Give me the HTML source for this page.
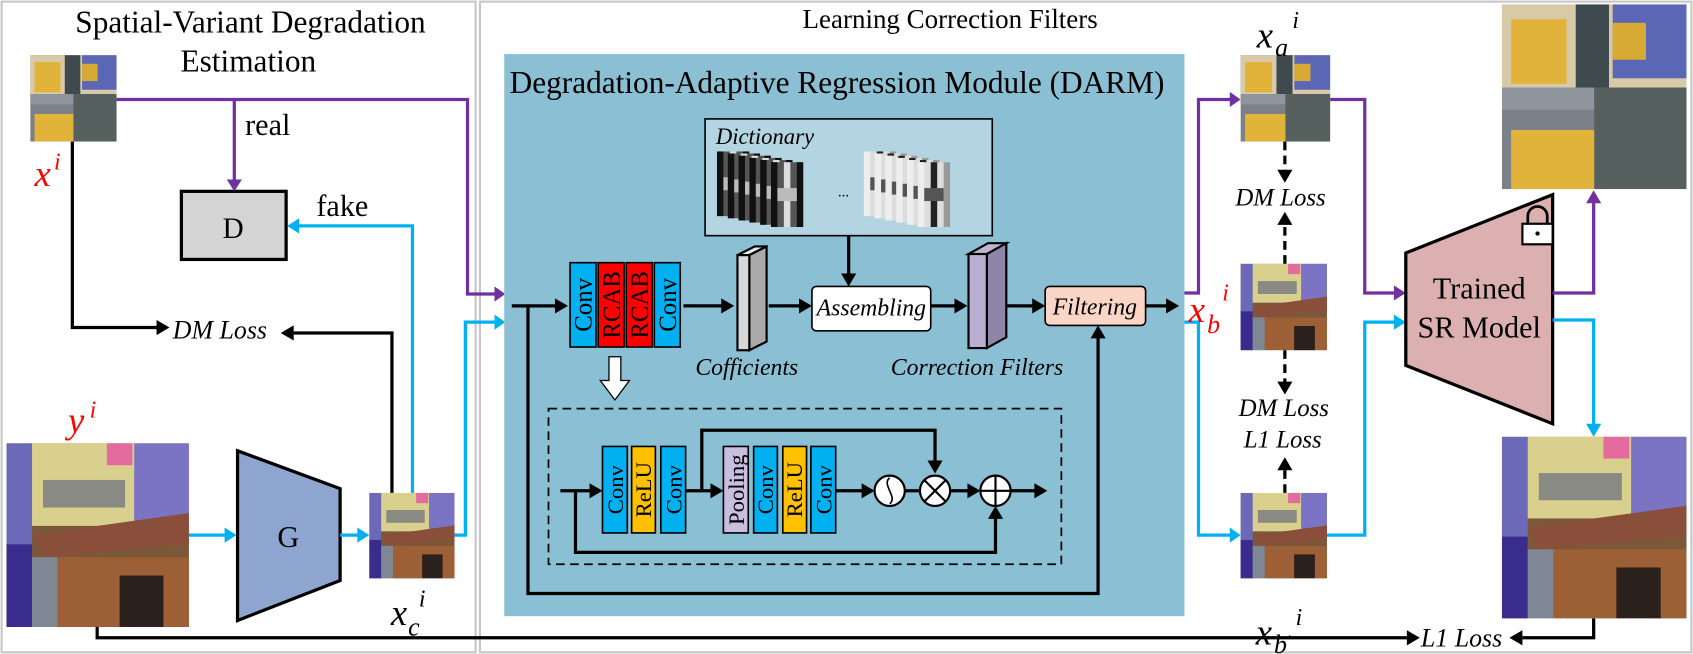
<!DOCTYPE html>
<html><head><meta charset="utf-8"><style>
html,body{margin:0;padding:0;background:#fff;}
svg{display:block;}
text{font-family:"Liberation Serif",serif;}
</style></head><body>
<svg width="1693" height="654" viewBox="0 0 1568 605" preserveAspectRatio="none" xmlns="http://www.w3.org/2000/svg">
<defs>
<symbol id="A" viewBox="0 0 100 100" preserveAspectRatio="none">
<rect width="100" height="100" fill="#7c8189"/>
<rect x="0" y="0" width="100" height="45" fill="#d8c9a8"/>
<rect x="60" y="0" width="40" height="40" fill="#5b67b5"/>
<rect x="5" y="8" width="30" height="35" fill="#e2b33a"/>
<rect x="40" y="0" width="18" height="45" fill="#3f4a4f"/>
<rect x="60" y="10" width="18" height="20" fill="#d6aa35"/>
<rect x="0" y="45" width="100" height="12" fill="#8e959c"/>
<rect x="50" y="45" width="50" height="55" fill="#56605f"/>
<rect x="5" y="68" width="45" height="32" fill="#e2b33a"/>
</symbol>
<symbol id="B" viewBox="0 0 100 100" preserveAspectRatio="none">
<rect width="100" height="100" fill="#7a5838"/>
<rect x="0" y="0" width="100" height="45" fill="#d9d08e"/>
<rect x="0" y="0" width="14" height="100" fill="#6c6ab8"/>
<rect x="70" y="0" width="30" height="45" fill="#7b74c4"/>
<rect x="20" y="20" width="45" height="15" fill="#8a8a85"/>
<rect x="55" y="0" width="14" height="12" fill="#e36b9f"/>
<rect x="0" y="55" width="14" height="45" fill="#3a2c8c"/>
<polygon points="14,50 100,38 100,55 20,62" fill="#8a4f3a"/>
<rect x="14" y="62" width="14" height="38" fill="#7f8794"/>
<rect x="28" y="62" width="72" height="38" fill="#9c5f36"/>
<rect x="62" y="72" width="24" height="28" fill="#2b211c"/>
</symbol>
<symbol id="D1" viewBox="0 0 10 10" preserveAspectRatio="none">
<rect width="10" height="10" fill="#555"/>
<rect x="0" width="2" height="10" fill="#111"/><rect x="4" width="2" height="10" fill="#ddd"/><rect x="8" width="2" height="10" fill="#111"/>
<rect x="2" y="4" width="6" height="2" fill="#bbb"/>
</symbol>
<symbol id="D2" viewBox="0 0 10 10" preserveAspectRatio="none">
<rect width="10" height="10" fill="#ddd"/>
<rect x="0" width="2" height="10" fill="#eee"/><rect x="4" width="2" height="10" fill="#222"/><rect x="8" width="2" height="10" fill="#999"/>
<rect x="2" y="4" width="6" height="2" fill="#555"/>
</symbol>
</defs>
<style>
.k{stroke:#000;stroke-width:3;fill:none}
.p{stroke:#7030a0;stroke-width:3;fill:none}
.b{stroke:#00b0f0;stroke-width:3;fill:none}
.it{font-style:italic}
</style>
<rect x="1.5" y="1.5" width="439" height="602" fill="none" stroke="#c8c8c8" stroke-width="2"/>
<rect x="444.5" y="1.5" width="1122" height="602" fill="none" stroke="#c8c8c8" stroke-width="2"/>
<text x="232" y="30" font-size="29" text-anchor="middle">Spatial-Variant Degradation</text>
<text x="230" y="66" font-size="29" text-anchor="middle">Estimation</text>
<text x="880" y="26" font-size="25" text-anchor="middle">Learning Correction Filters</text>

<use href="#A" x="28" y="51" width="80" height="80"/>
<use href="#B" x="6" y="410" width="169" height="170"/>
<use href="#B" x="342" y="456" width="79" height="79"/>
<text x="32" y="172" font-size="34" class="it" fill="#f00">x</text><text x="50" y="157" font-size="22" class="it" fill="#f00">i</text>
<text x="63" y="400" font-size="34" class="it" fill="#f00">y</text><text x="83" y="386" font-size="22" class="it" fill="#f00">i</text>
<text x="362" y="578" font-size="34" class="it">x</text><text x="378" y="588" font-size="24" class="it">c</text><text x="388" y="561" font-size="22" class="it">i</text>

<rect x="168" y="177" width="97" height="63" fill="#d4d4d4" stroke="#000" stroke-width="3"/>
<text x="216" y="220" font-size="27" text-anchor="middle">D</text>
<text x="227" y="125" font-size="28">real</text>
<text x="293" y="200" font-size="28">fake</text>
<polyline class="p" points="108,92 433,92 433,272 458,272"/>
<polygon points="458,265 468,272 458,279" fill="#7030a0"/>
<line class="p" x1="217" y1="92" x2="217" y2="168"/>
<polygon points="210,166 217,177 224,166" fill="#7030a0"/>
<polyline class="b" points="382,456 382,209 276,209"/>
<polygon points="277,202 266,209 277,216" fill="#00b0f0"/>
<polyline class="k" points="67,131 67,303 146,303"/>
<polygon points="145,296 157,303 145,310" fill="#000"/>
<polyline class="k" points="363,456 363,308 272,308"/>
<polygon points="272,301 260,308 272,315" fill="#000"/>
<text x="160" y="313" font-size="24" class="it">DM Loss</text>
<line class="b" x1="175" y1="495" x2="210" y2="495"/>
<polygon points="208,488 219,495 208,502" fill="#00b0f0"/>
<polygon points="220,417 315,452 315,537 220,574" fill="#8ea6cf" stroke="#000" stroke-width="3"/>
<text x="267" y="506" font-size="28" text-anchor="middle">G</text>
<line class="b" x1="315" y1="495" x2="333" y2="495"/>
<polygon points="331,488 342,495 331,502" fill="#00b0f0"/>
<polyline class="b" points="421,495 431,495 431,298 458,298"/>
<polygon points="458,291 468,298 458,305" fill="#00b0f0"/>
<polyline class="k" points="90,580 90,590 1304,590"/>
<polygon points="1303,583 1315,590 1303,597" fill="#000"/>
<polyline class="k" points="1476,572 1476,590 1410,590"/>
<polygon points="1410,583 1398,590 1410,597" fill="#000"/>
<text x="1316" y="598" font-size="24" class="it">L1 Loss</text>

<rect x="467" y="50" width="630" height="520" fill="#8bbfd3"/>
<text x="472" y="86" font-size="29">Degradation-Adaptive Regression Module (DARM)</text>
<rect x="653" y="110" width="266" height="108" fill="#b3d5e1" stroke="#000" stroke-width="1.5"/>
<text x="663" y="133" font-size="21" class="it">Dictionary</text>
<g>
<use href="#D1" x="664" y="140" width="30" height="60"/>
<use href="#D1" x="674" y="142" width="30" height="60"/>
<use href="#D1" x="684" y="144" width="30" height="60"/>
<use href="#D1" x="694" y="146" width="30" height="60"/>
<use href="#D1" x="704" y="148" width="30" height="60"/>
<use href="#D1" x="714" y="150" width="30" height="60"/>
<use href="#D2" x="800" y="140" width="30" height="60"/>
<use href="#D2" x="810" y="142" width="30" height="60"/>
<use href="#D2" x="820" y="144" width="30" height="60"/>
<use href="#D2" x="830" y="146" width="30" height="60"/>
<use href="#D2" x="840" y="148" width="30" height="60"/>
<use href="#D2" x="850" y="150" width="30" height="60"/>
</g>
<text x="776" y="182" font-size="14">...</text>
<line class="k" x1="474" y1="283" x2="518" y2="283"/>
<polygon points="514,276 526,283 514,290" fill="#000"/>
<g stroke="#000" stroke-width="1.5">
<rect x="528" y="243" width="24" height="78" fill="#00b0f0"/>
<rect x="554" y="243" width="24" height="78" fill="#f00"/>
<rect x="580" y="243" width="24" height="78" fill="#f00"/>
<rect x="606" y="243" width="24" height="78" fill="#00b0f0"/>
</g>
<g font-size="23" text-anchor="middle">
<text transform="translate(548,282) rotate(-90)">Conv</text>
<text transform="translate(574,282) rotate(-90)">RCAB</text>
<text transform="translate(600,282) rotate(-90)">RCAB</text>
<text transform="translate(626,282) rotate(-90)">Conv</text>
</g>
<line class="k" x1="633" y1="283" x2="670" y2="283"/>
<polygon points="668,276 680,283 668,290" fill="#000"/>
<polygon points="683,236 699,228 710,228 694,236" fill="#e8e8e8" stroke="#000" stroke-width="2"/>
<polygon points="694,236 710,228 710,316 694,324" fill="#aaa" stroke="#000" stroke-width="2"/>
<rect x="683" y="236" width="11" height="88" fill="#d8d8d8" stroke="#000" stroke-width="2"/>
<text x="644" y="347" font-size="22" class="it">Cofficients</text>
<line class="k" x1="712" y1="283" x2="742" y2="283"/>
<polygon points="740,276 752,283 740,290" fill="#000"/>
<line class="k" x1="786" y1="218" x2="786" y2="255"/>
<polygon points="779,253 786,265 793,253" fill="#000"/>
<rect x="752" y="265" width="110" height="41" rx="4" fill="#fff" stroke="#000" stroke-width="1.5"/>
<text x="807" y="292" font-size="22" class="it" text-anchor="middle">Assembling</text>
<line class="k" x1="862" y1="283" x2="886" y2="283"/>
<polygon points="884,276 896,283 884,290" fill="#000"/>
<polygon points="897,235 915,225 932,225 914,235" fill="#c0b4d0" stroke="#000" stroke-width="2"/>
<polygon points="914,235 932,225 932,312 914,322" fill="#8f85a8" stroke="#000" stroke-width="2"/>
<rect x="897" y="235" width="17" height="87" fill="#b7aed0" stroke="#000" stroke-width="2"/>
<text x="825" y="347" font-size="22" class="it">Correction Filters</text>
<line class="k" x1="932" y1="283" x2="958" y2="283"/>
<polygon points="956,276 968,283 956,290" fill="#000"/>
<rect x="968" y="265" width="93" height="36" rx="4" fill="#fbd5c5" stroke="#000" stroke-width="1.5"/>
<text x="1014" y="291" font-size="22" class="it" text-anchor="middle">Filtering</text>
<line class="k" x1="1061" y1="283" x2="1082" y2="283"/>
<polygon points="1080,276 1092,283 1080,290" fill="#000"/>
<polyline class="k" points="489,283 489,549 1017,549 1017,312"/>
<polygon points="1010,313 1017,301 1024,313" fill="#000"/>
<polygon points="564,330 575,330 575,352 583,352 569.5,370 556,352 564,352" fill="#fff" stroke="#000" stroke-width="1.2"/>
<rect x="508" y="378" width="475" height="144" fill="none" stroke="#000" stroke-width="1.6" stroke-dasharray="8,5"/>
<line class="k" x1="519" y1="454" x2="549" y2="454"/>
<polygon points="546,447 558,454 546,461" fill="#000"/>
<g stroke="#000" stroke-width="1.5">
<rect x="558" y="413" width="23" height="80" fill="#00b0f0"/>
<rect x="585" y="413" width="22" height="80" fill="#ffc000"/>
<rect x="612" y="413" width="23" height="80" fill="#00b0f0"/>
<rect x="670" y="413" width="23" height="80" fill="#c9bde0"/>
<rect x="698" y="413" width="22" height="80" fill="#00b0f0"/>
<rect x="725" y="413" width="22" height="80" fill="#ffc000"/>
<rect x="751" y="413" width="23" height="80" fill="#00b0f0"/>
</g>
<g font-size="21" text-anchor="middle">
<text transform="translate(577,453) rotate(-90)">Conv</text>
<text transform="translate(603,453) rotate(-90)">ReLU</text>
<text transform="translate(631,453) rotate(-90)">Conv</text>
<text transform="translate(689,453) rotate(-90)">Pooling</text>
<text transform="translate(716,453) rotate(-90)">Conv</text>
<text transform="translate(743,453) rotate(-90)">ReLU</text>
<text transform="translate(770,453) rotate(-90)">Conv</text>
</g>
<line class="k" x1="635" y1="454" x2="660" y2="454"/>
<polygon points="658,447 670,454 658,461" fill="#000"/>
<polyline class="k" points="650,454 650,398 866,398 866,428"/>
<polygon points="859,426 866,438 873,426" fill="#000"/>
<line class="k" x1="774" y1="454" x2="800" y2="454"/>
<polygon points="798,447 810,454 798,461" fill="#000"/>
<circle cx="824" cy="454" r="14" fill="#fff" stroke="#000" stroke-width="2"/>
<path d="M824,442 C816,448 832,460 824,466" stroke="#000" stroke-width="1.5" fill="none"/>
<line class="k" x1="838" y1="454" x2="852" y2="454"/>
<circle cx="866" cy="454" r="14" fill="#fff" stroke="#000" stroke-width="2"/>
<path d="M856,444L876,464M876,444L856,464" stroke="#000" stroke-width="2"/>
<line class="k" x1="880" y1="454" x2="898" y2="454"/>
<polygon points="896,447 908,454 896,461" fill="#000"/>
<circle cx="922" cy="454" r="14" fill="#fff" stroke="#000" stroke-width="2"/>
<path d="M908,454H936M922,440V468" stroke="#000" stroke-width="2"/>
<line class="k" x1="936" y1="454" x2="960" y2="454"/>
<polygon points="958,447 970,454 958,461" fill="#000"/>
<polyline class="k" points="533,454 533,511 922,511 922,478"/>
<polygon points="915,480 922,468 929,480" fill="#000"/>

<polyline class="p" points="1097,271 1110,271 1110,92 1140,92"/>
<polygon points="1139,85 1149,92 1139,99" fill="#7030a0"/>
<polyline class="b" points="1097,298 1110,298 1110,495 1140,495"/>
<polygon points="1139,488 1149,495 1139,502" fill="#00b0f0"/>
<use href="#A" x="1149" y="51" width="83" height="80"/>
<use href="#B" x="1149" y="244" width="80" height="80"/>
<use href="#B" x="1149" y="456" width="80" height="79"/>
<text x="1101" y="298" font-size="34" class="it" fill="#f00">x</text><text x="1118" y="308" font-size="24" class="it" fill="#f00">b</text><text x="1132" y="278" font-size="22" class="it" fill="#f00">i</text>
<text x="1164" y="44" font-size="34" class="it">x</text><text x="1181" y="52" font-size="24" class="it">a</text><text x="1197" y="26" font-size="22" class="it">i</text>
<text x="1163" y="596" font-size="34" class="it">x</text><text x="1180" y="604" font-size="24" class="it">b</text><text x="1193" y="598" font-size="16">'</text><text x="1200" y="578" font-size="22" class="it">i</text>
<g stroke="#000" stroke-width="3" stroke-dasharray="8,5" fill="none">
<line x1="1190" y1="131" x2="1190" y2="162"/>
<line x1="1190" y1="244" x2="1190" y2="205"/>
<line x1="1190" y1="324" x2="1190" y2="358"/>
<line x1="1190" y1="456" x2="1190" y2="432"/>
</g>
<polygon points="1183,157 1190,169 1197,157" fill="#000"/>
<polygon points="1183,208 1190,196 1197,208" fill="#000"/>
<polygon points="1183,353 1190,365 1197,353" fill="#000"/>
<polygon points="1183,435 1190,423 1197,435" fill="#000"/>
<text x="1186" y="190" font-size="23" class="it" text-anchor="middle">DM Loss</text>
<text x="1189" y="385" font-size="23" class="it" text-anchor="middle">DM Loss</text>
<text x="1188" y="414" font-size="23" class="it" text-anchor="middle">L1 Loss</text>
<polyline class="p" points="1232,92 1264,92 1264,271 1292,271"/>
<polygon points="1291,264 1302,271 1291,278" fill="#7030a0"/>
<polyline class="b" points="1229,495 1264,495 1264,298 1292,298"/>
<polygon points="1291,291 1302,298 1291,305" fill="#00b0f0"/>
<polygon points="1302,234 1438,180 1438,392 1302,338" fill="#dcb0b0" stroke="#000" stroke-width="3"/>
<text x="1370" y="276" font-size="28" text-anchor="middle">Trained</text>
<text x="1370" y="312" font-size="28" text-anchor="middle">SR Model</text>
<rect x="1410" y="207" width="28" height="19" fill="#fff" stroke="#000" stroke-width="2"/>
<path d="M1415,207V200a9,9 0 0 1 18,0V207" fill="none" stroke="#000" stroke-width="2.5"/>
<circle cx="1424" cy="216" r="2" fill="#000"/>
<use href="#A" x="1391" y="4" width="171" height="171"/>
<polyline class="p" points="1438,271 1476,271 1476,186"/>
<polygon points="1469,188 1476,176 1483,188" fill="#7030a0"/>
<polyline class="b" points="1438,296 1476,296 1476,393"/>
<polygon points="1469,392 1476,404 1483,392" fill="#00b0f0"/>
<use href="#B" x="1391" y="404" width="171" height="168"/>
</svg>
</body></html>
